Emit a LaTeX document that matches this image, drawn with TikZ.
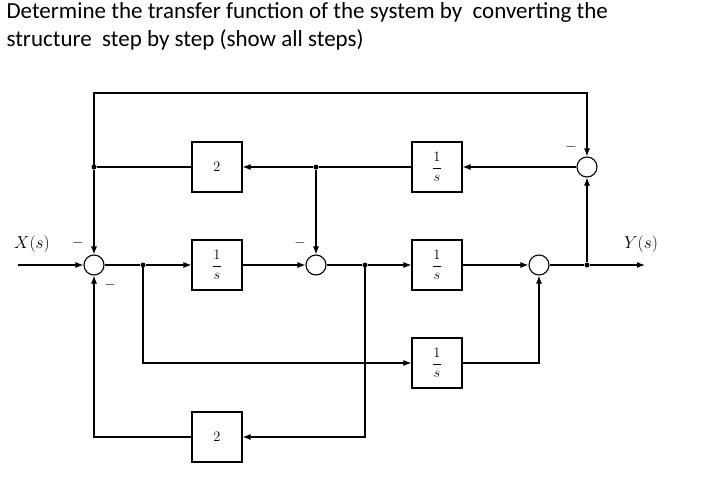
\documentclass[tikz,border=0pt]{standalone}
\usepackage{fontspec}
\newfontfamily\titlefont{Carlito}
\usetikzlibrary{arrows.meta}
\begin{document}
\begin{tikzpicture}[x=1pt,y=-1pt,line width=1.1pt,
  blk/.style={draw,minimum width=50pt,minimum height=50pt,inner sep=0pt,font=\fontsize{15}{15}\selectfont},
  sumn/.style={draw,circle,minimum size=20pt,inner sep=0pt},
  dot/.style={circle,fill,inner sep=0pt,minimum size=5pt},
  arr/.style={-{Latex[length=8pt,width=6pt]}},
  lab/.style={font=\fontsize{16}{16}\selectfont},
  sg/.style={font=\fontsize{14}{14}\selectfont}]
\useasboundingbox (0,0) rectangle (712,490);
\node[anchor=north west,align=left,font=\titlefont\fontsize{23}{28}\selectfont,inner sep=0pt] (title) at (6,2) {Determine the transfer function of the system by\ \ converting the\\structure\ \ step by step (show all steps)};
% nodes
\node[blk] (b1) at (217,167) {$2$};
\node[blk] (b2) at (437,167) {$\displaystyle\frac{1}{s}$};
\node[blk] (b3) at (217,265) {$\displaystyle\frac{1}{s}$};
\node[blk] (b4) at (437,265) {$\displaystyle\frac{1}{s}$};
\node[blk] (b5) at (437,363) {$\displaystyle\frac{1}{s}$};
\node[blk] (b6) at (217,437) {$2$};
\node[sumn] (s1) at (94,265) {};
\node[sumn] (s2) at (316,265) {};
\node[sumn] (s3) at (587,167) {};
\node[sumn] (s4) at (539,265) {};
\node[dot] (j1) at (94,167) {};
\node[dot] (j2) at (316,167) {};
\node[dot] (j3) at (143,265) {};
\node[dot] (j4) at (365,265) {};
\node[dot] (j5) at (587,265) {};
\coordinate (in) at (18,265);
\coordinate (out) at (645,265);
\coordinate (t1) at (94,93);
\coordinate (t2) at (587,93);
\coordinate (c3) at (143,363);
\coordinate (c4) at (539,363);
\coordinate (c5) at (365,437);
\coordinate (c6) at (94,437);
% main path
\draw[arr] (in) -- (s1);
\draw (s1) -- (j3);
\draw[arr] (j3) -- (b3);
\draw[arr] (b3) -- (s2);
\draw (s2) -- (j4);
\draw[arr] (j4) -- (b4);
\draw[arr] (b4) -- (s4);
\draw (s4) -- (j5);
\draw[arr] (j5) -- (out);
% upper loops
\draw[arr] (j5) -- (s3);
\draw[arr] (s3) -- (b2);
\draw (b2) -- (j2);
\draw[arr] (j2) -- (b1);
\draw[arr] (j2) -- (s2);
\draw (b1) -- (j1);
\draw[arr] (j1) -- (s1);
\draw[arr] (j1.center) -- (t1) -- (t2) -- (s3);
% lower loops
\draw[arr] (j3.center) -- (c3) -- (b5);
\draw[arr] (b5) -- (c4) -- (s4);
\draw[arr] (j4.center) -- (c5) -- (b6);
\draw[arr] (b6) -- (c6) -- (s1);
% labels
\node[lab] (xl) at (32,244) {$X(s)$};
\node[lab] (yl) at (641,244) {$Y(s)$};
\node[sg] (m1) at (78,243) {$-$};
\node[sg] (m2) at (110,285) {$-$};
\node[sg] (m3) at (300,243) {$-$};
\node[sg] (m4) at (571,147) {$-$};
\end{tikzpicture}
\end{document}
